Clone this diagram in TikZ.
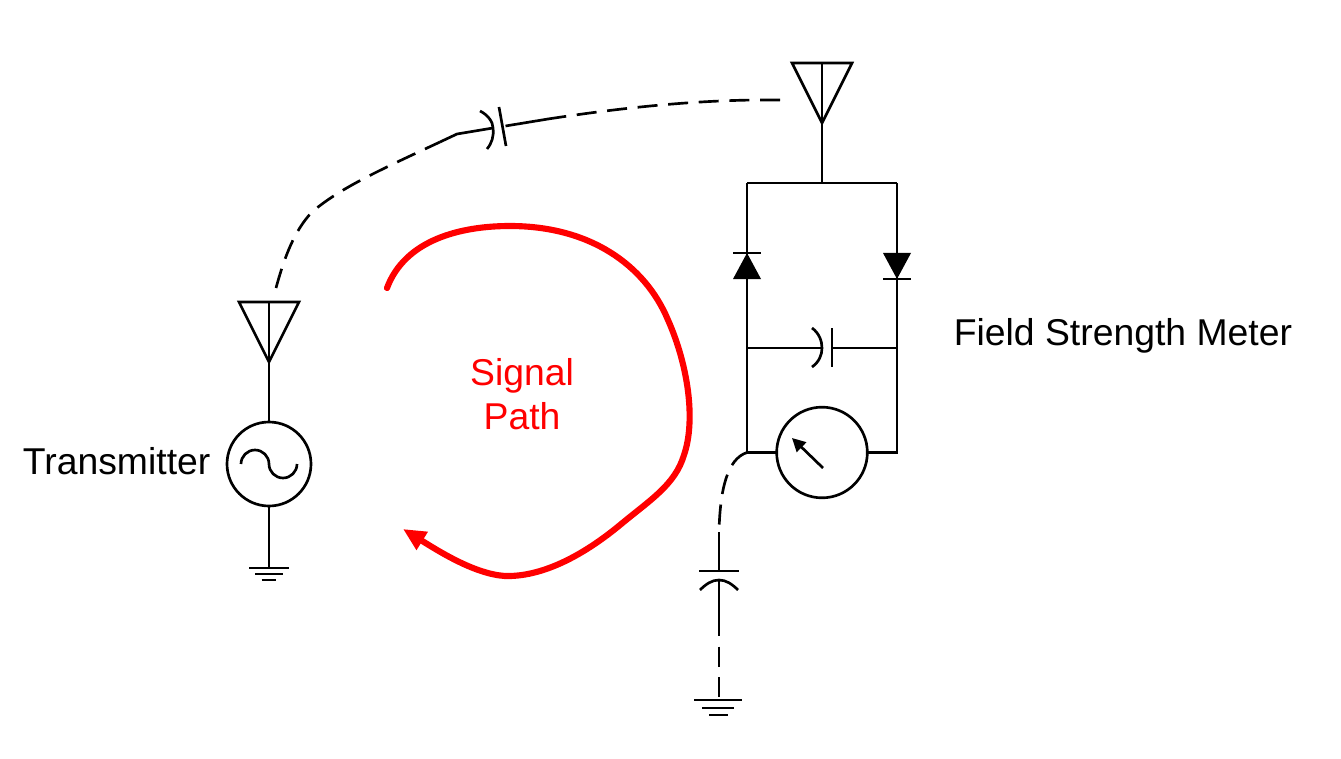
\documentclass[tikz,border=0pt]{standalone}
\usepackage{fontspec}
\setmainfont{Liberation Sans}
\usetikzlibrary{positioning,arrows.meta}

\begin{document}
\begin{tikzpicture}[x=.75pt,y=-.75pt,line width=2pt,
    round node/.style={circle,draw,inner sep=0pt,outer sep=0pt},
    label node/.style={inner sep=0pt,font=\fontsize{28}{33}\selectfont,align=center},
    link/.style={dash pattern=on 15pt off 8pt},
    path line/.style={red,line width=4.6pt,line cap=round}]
    \useasboundingbox (0,0) rectangle (1341,759);

    % transmitter side
    \coordinate (txtip) at (269,362);
    \coordinate (txtop) at (269,302);
    \node[round node,minimum size=63pt] (src) [below = 45pt of txtip] {};
    \coordinate[below = 46.5pt of src] (txgnd);
    \node[label node,left = 11.5pt of src,yshift=2pt] (txlabel) {Transmitter};

    \draw (239,302) -- (299,302) -- (txtip) -- cycle;
    \draw (txtop) -- (txtip) -- (src) -- (txgnd);
    \draw ([xshift=-21pt]src.center) arc[start angle=180,end angle=0,radius=10.5pt]
          arc[start angle=180,end angle=360,radius=10.5pt];
    \draw ([xshift=-15pt]txgnd) -- ([xshift=15pt]txgnd);
    \draw ([xshift=-10.5pt,yshift=-4.5pt]txgnd) -- ([xshift=10.5pt,yshift=-4.5pt]txgnd);
    \draw ([xshift=-5.5pt,yshift=-9pt]txgnd) -- ([xshift=5.5pt,yshift=-9pt]txgnd);

    % meter side
    \coordinate (rxtip) at (822,123);
    \coordinate (rxtop) at (822,63);
    \coordinate[below = 45pt of rxtip] (bus);
    \coordinate[left = 56.25pt of bus] (busl);
    \coordinate[right = 56.25pt of bus] (busr);
    \node[round node,minimum size=68pt] (meter) at (822,452.5) {};
    \coordinate (meterl) at (747,452.5);
    \coordinate (meterr) at (897,452.5);
    \coordinate (capl) at (747,348);
    \coordinate (capr) at (897,348);
    \coordinate (needlea) at (823,468);
    \coordinate (needleb) at (792,438);
    \node[label node,anchor=west] (rxlabel) at (952.5,336) {Field Strength Meter};

    \draw (792,63) -- (852,63) -- (rxtip) -- cycle;
    \draw (rxtop) -- (rxtip) -- (bus);
    \draw (busl) -- (busr);
    \draw (busl) -- (meterl) -- (meter);
    \draw (busr) -- (meterr) -- (meter);
    \draw[-{Triangle[length=10pt,width=10pt]}] (needlea) -- (needleb);

    % diodes
    \fill (747,253) -- (761,279) -- (733,279) -- cycle;
    \draw (733,253) -- (761,253);
    \fill (883,253) -- (911,253) -- (897,279) -- cycle;
    \draw (883,279) -- (911,279);

    % capacitors
    \draw (capl) -- (822,348);
    \draw (832,348) -- (capr);
    \draw (812,328) .. controls (819,333) and (822,341) .. (822,348)
          .. controls (822,355) and (819,362) .. (812,367);
    \draw (832,328) -- (832,367);

    \coordinate (gndcapa) at (719,532);
    \coordinate (gndcapb) at (719,571);
    \coordinate (gndcapc) at (719,580);
    \coordinate (gndcapd) at (719,636);
    \coordinate (rxgnd) at (719,700);
    \draw[link] (meterl) .. controls (727,459) and (720,490) .. (gndcapa);
    \draw (gndcapa) -- (gndcapb);
    \draw (699,571) -- (739,571);
    \draw (700,590) .. controls (706,584) and (712,580) .. (gndcapc)
          .. controls (726,580) and (732,584) .. (738,590);
    \draw (gndcapc) -- (gndcapd);
    \draw[dash pattern=on 0pt off 8pt on 15pt off 8pt on 15pt off 8pt] (gndcapd) -- (rxgnd);
    \draw (694,700) -- (742,700);
    \draw (702,708) -- (734,708);
    \draw (709,715) -- (728,715);

    % air gap between the antennas
    \coordinate (aira) at (780,100);
    \coordinate (airb) at (548,119);
    \coordinate (airc) at (505.5,126);
    \coordinate (aird) at (493,128);
    \coordinate (aire) at (457,134);
    \coordinate (airf) at (276,288);
    \coordinate (airg) at (440,142);
    \draw[link] (aira) .. controls (700,99) and (620,108) .. (airb);
    \draw (airb) -- (airc);
    \draw (aird) -- (aire) -- (airg);
    \draw[link] (airf) .. controls (285,255) and (295,230) .. (312,212)
          .. controls (340,188) and (380,170) .. (airg);
    \draw (499,107) -- (506,146);
    \draw (480,111) .. controls (488,115) and (493,122) .. (493,128)
          .. controls (494,136) and (492,143) .. (487,149);

    % signal path
    \coordinate (sigstart) at (387,288);
    \coordinate (sigend) at (403,529);
    \draw[path line,-{Triangle[length=17pt,width=15pt]}] (sigstart)
        .. controls (405,240) and (460,226) .. (510,226)
        .. controls (590,226) and (645,265) .. (668,320)
        .. controls (688,365) and (696,420) .. (684,455)
        .. controls (675,485) and (650,500) .. (620,525)
        .. controls (580,558) and (540,577) .. (505,576)
        .. controls (475,574) and (440,552) .. (sigend);
    \node[label node,text=red] (siglabel) at (522,394) {Signal\\Path};
\end{tikzpicture}
\end{document}
